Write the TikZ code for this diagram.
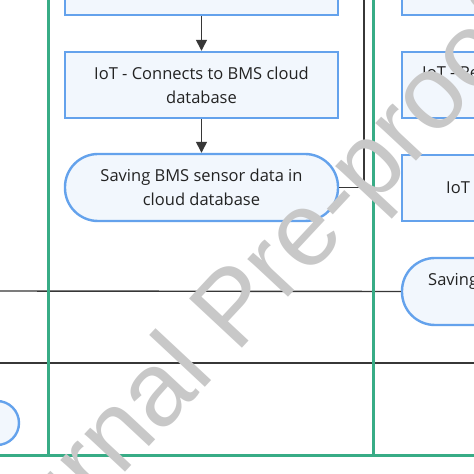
\documentclass[tikz,border=0pt]{standalone}
\usepackage{fontspec}
\setmainfont{Open Sans}
\newfontfamily\wmfont{Liberation Sans}
\usetikzlibrary{arrows.meta}
\definecolor{boxblue}{RGB}{100,162,236}
\definecolor{boxfill}{RGB}{242,247,253}
\definecolor{lanegreen}{RGB}{56,172,134}
\definecolor{linegray}{RGB}{55,55,55}
\definecolor{txtgray}{RGB}{35,35,35}
\definecolor{wmgray}{RGB}{200,200,200}
\begin{document}
\begin{tikzpicture}[x=1pt,y=1pt,
  procbox/.style={draw=boxblue, fill=boxfill, line width=2.4pt, minimum width=273pt,
    inner sep=0pt, text=txtgray, align=center, font=\fontsize{16.5}{24}\selectfont},
  termbox/.style={procbox, rounded corners=33pt},
  lane/.style={draw=lanegreen, line width=3pt},
  flow/.style={draw=linegray, line width=1.4pt},
  arr/.style={flow, -{Triangle[width=11pt,length=11pt]}},
  lbl/.style={text=txtgray, font=\fontsize{16.5}{24}\selectfont, inner sep=0pt, anchor=base west},
  wm/.style={text=wmgray, font=\wmfont\fontsize{105}{105}\selectfont, inner sep=0pt, anchor=base, rotate=47}
]
\useasboundingbox (0,0) rectangle (474,474);
\fill[white] (0,0) rectangle (474,474);
\begin{scope}
\clip (0,0) rectangle (474,474);
% free ends of connectors
\coordinate (lineAin) at (-5,183);
\coordinate (lineBin) at (-5,111);
\coordinate (lineBout) at (480,111);
\coordinate (upexit) at (364,480);
% left lane nodes
\node[procbox, minimum height=65pt] (ltop) at (201.5,491.5) {};
\node[procbox, minimum height=66pt] (lconn) at (201.5,389) {IoT - Connects to BMS cloud\\database};
\node[termbox, minimum height=67pt] (lsave) at (201.5,286.5) {Saving BMS sensor data in\\cloud database};
% right lane nodes
\node[procbox, minimum height=65pt] (rtop) at (538.5,491.5) {};
\node[procbox, minimum height=66pt] (rrecv) at (538.5,389) {};
\node[procbox, minimum height=66pt] (riot) at (538.5,286) {};
\node[termbox, minimum height=67pt] (rsave) at (538.5,182.5) {};
\node[lbl] (rrecvtxt) at (422,395) {IoT - Receives};
\node[lbl] (riottxt) at (446,280) {IoT};
\node[lbl] (rsavetxt) at (428,188) {Saving};
% bottom-left terminator
\node[termbox, minimum width=119pt, minimum height=44pt, rounded corners=22pt] (lend) at (-40.5,51) {};
% connectors
\draw[arr] (ltop.south) -- (lconn.north);
\draw[arr] (lconn.south) -- (lsave.north);
\draw[flow] (lsave.east) -| (upexit);
\draw[flow] (lineAin) -- (rsave.west);
\draw[flow] (lineBin) -- (lineBout);
% swimlane borders
\draw[lane] (48.5,480) -- (48.5,18);
\draw[lane] (373,480) -- (373,18);
\draw[lane] (-5,18) -- (480,18);
% watermark
\node[wm] (wmark) at (258,143.5) {Journal Pre-proof};
\end{scope}
\end{tikzpicture}
\end{document}
